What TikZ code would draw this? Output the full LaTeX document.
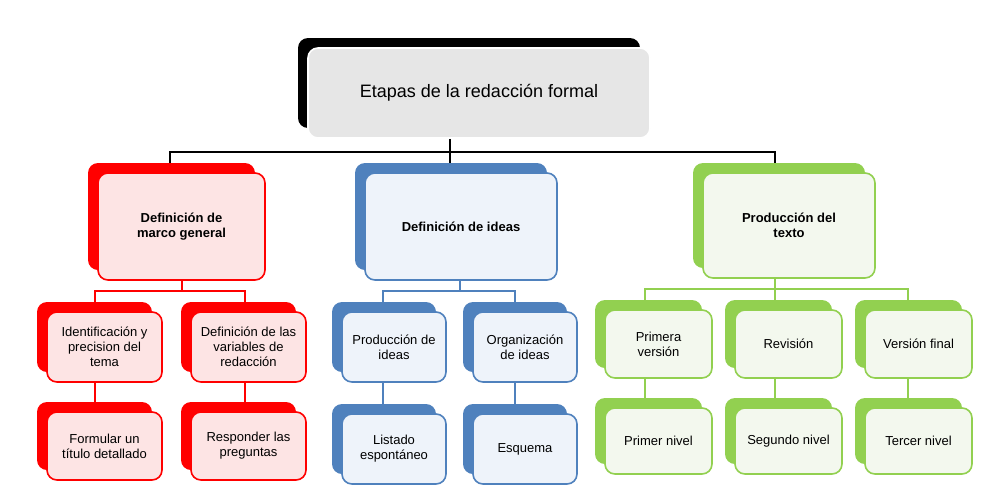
\documentclass[tikz,border=0pt]{standalone}
\usepackage{fontspec}
\setmainfont{Liberation Sans}
\definecolor{rd}{HTML}{FF0000}\definecolor{rdf}{HTML}{FDE4E4}
\definecolor{bl}{HTML}{4F81BD}\definecolor{blf}{HTML}{EEF3FA}
\definecolor{gr}{HTML}{92D050}\definecolor{grf}{HTML}{F3F8EE}
\definecolor{gy}{HTML}{E6E6E6}
\newcommand{\bx}[9]{%
 % id, x1, y1, x2, y2, back colour, border, fill, text
 \node[back,fill=#6,minimum width={(#4-#2)*1pt},minimum height={(#5-#3)*1pt}] (#1b) at ({(#2+#4)/2},{(#3+#5)/2}) {};
 \node[front,draw=#7,fill=#8,minimum width={(#4-#2)*1pt},minimum height={(#5-#3)*1pt}] (#1) at ({(#2+#4)/2+10},{(#3+#5)/2+10}) {#9};}
\tikzset{back/.style={rounded corners=10pt,inner sep=0pt},
 front/.style={rounded corners=10pt,line width=1.6pt,inner sep=2pt,align=center,font=\fontsize{13}{15}\selectfont},
 ln/.style={line width=2.2pt}}
\begin{document}
\begin{tikzpicture}[x=1pt,y=-1pt]
\useasboundingbox (0,0) rectangle (1006,496);
\bx{t}{298}{38}{640}{128}{black}{white}{gy}{\fontsize{18}{20}\selectfont Etapas de la redacción formal}
\bx{r}{88}{163}{255}{270}{rd}{rd}{rdf}{\bfseries Definición de\\\bfseries marco general}
\bx{b}{355}{163}{547}{270}{bl}{bl}{blf}{\bfseries Definición de ideas}
\bx{g}{693}{163}{865}{268}{gr}{gr}{grf}{\bfseries Producción del\\\bfseries texto}
\bx{r1}{37}{302}{152}{372}{rd}{rd}{rdf}{Identificación y\\precision del\\tema}
\bx{r2}{181}{302}{296}{372}{rd}{rd}{rdf}{Definición de las\\variables de\\redacción}
\bx{r3}{37}{402}{152}{470}{rd}{rd}{rdf}{Formular un\\título detallado}
\bx{r4}{181}{402}{296}{470}{rd}{rd}{rdf}{Responder las\\preguntas}
\bx{b1}{332}{302}{436}{372}{bl}{bl}{blf}{Producción de\\ideas}
\bx{b2}{463}{302}{567}{372}{bl}{bl}{blf}{Organización\\de ideas}
\bx{b3}{332}{404}{436}{474}{bl}{bl}{blf}{Listado\\espontáneo}
\bx{b4}{463}{404}{567}{474}{bl}{bl}{blf}{Esquema}
\bx{g1}{595}{300}{702}{368}{gr}{gr}{grf}{Primera\\versión}
\bx{g2}{725}{300}{832}{368}{gr}{gr}{grf}{Revisión}
\bx{g3}{855}{300}{962}{368}{gr}{gr}{grf}{Versión final}
\bx{g4}{595}{398}{702}{464}{gr}{gr}{grf}{Primer nivel}
\bx{g5}{725}{398}{832}{464}{gr}{gr}{grf}{Segundo nivel}
\bx{g6}{855}{398}{962}{464}{gr}{gr}{grf}{Tercer nivel}
% connectors
\draw[ln,black] (t.south -| 450,0) -- (450,152) -| (rb.north -| 170,0);
\draw[ln,black] (450,152) -- (bb.north -| 450,0);
\draw[ln,black] (450,152) -| (gb.north -| 775,0);
\draw[ln,rd] (r.south -| 182,0) -- (182,291) -| (r1b.north -| 95,0);
\draw[ln,rd] (182,291) -| (r2b.north -| 245,0);
\draw[ln,rd] (r1.south -| 95,0) -- (r3b.north -| 95,0);
\draw[ln,rd] (r2.south -| 245,0) -- (r4b.north -| 245,0);
\draw[ln,bl] (b.south -| 460,0) -- (460,291) -| (b1b.north -| 383,0);
\draw[ln,bl] (460,291) -| (b2b.north -| 515,0);
\draw[ln,bl] (b1.south -| 383,0) -- (b3b.north -| 383,0);
\draw[ln,bl] (b2.south -| 515,0) -- (b4b.north -| 515,0);
\draw[ln,gr] (g.south -| 775,0) -- (775,289) -| (g1b.north -| 645,0);
\draw[ln,gr] (775,289) -- (g2b.north -| 775,0);
\draw[ln,gr] (775,289) -| (g3b.north -| 908,0);
\draw[ln,gr] (g1.south -| 645,0) -- (g4b.north -| 645,0);
\draw[ln,gr] (g2.south -| 775,0) -- (g5b.north -| 775,0);
\draw[ln,gr] (g3.south -| 908,0) -- (g6b.north -| 908,0);
% redraw boxes over lines
\foreach \n in {t,r,b,g,r1,r2,r3,r4,b1,b2,b3,b4,g1,g2,g3,g4,g5,g6}{}
\end{tikzpicture}
\end{document}
